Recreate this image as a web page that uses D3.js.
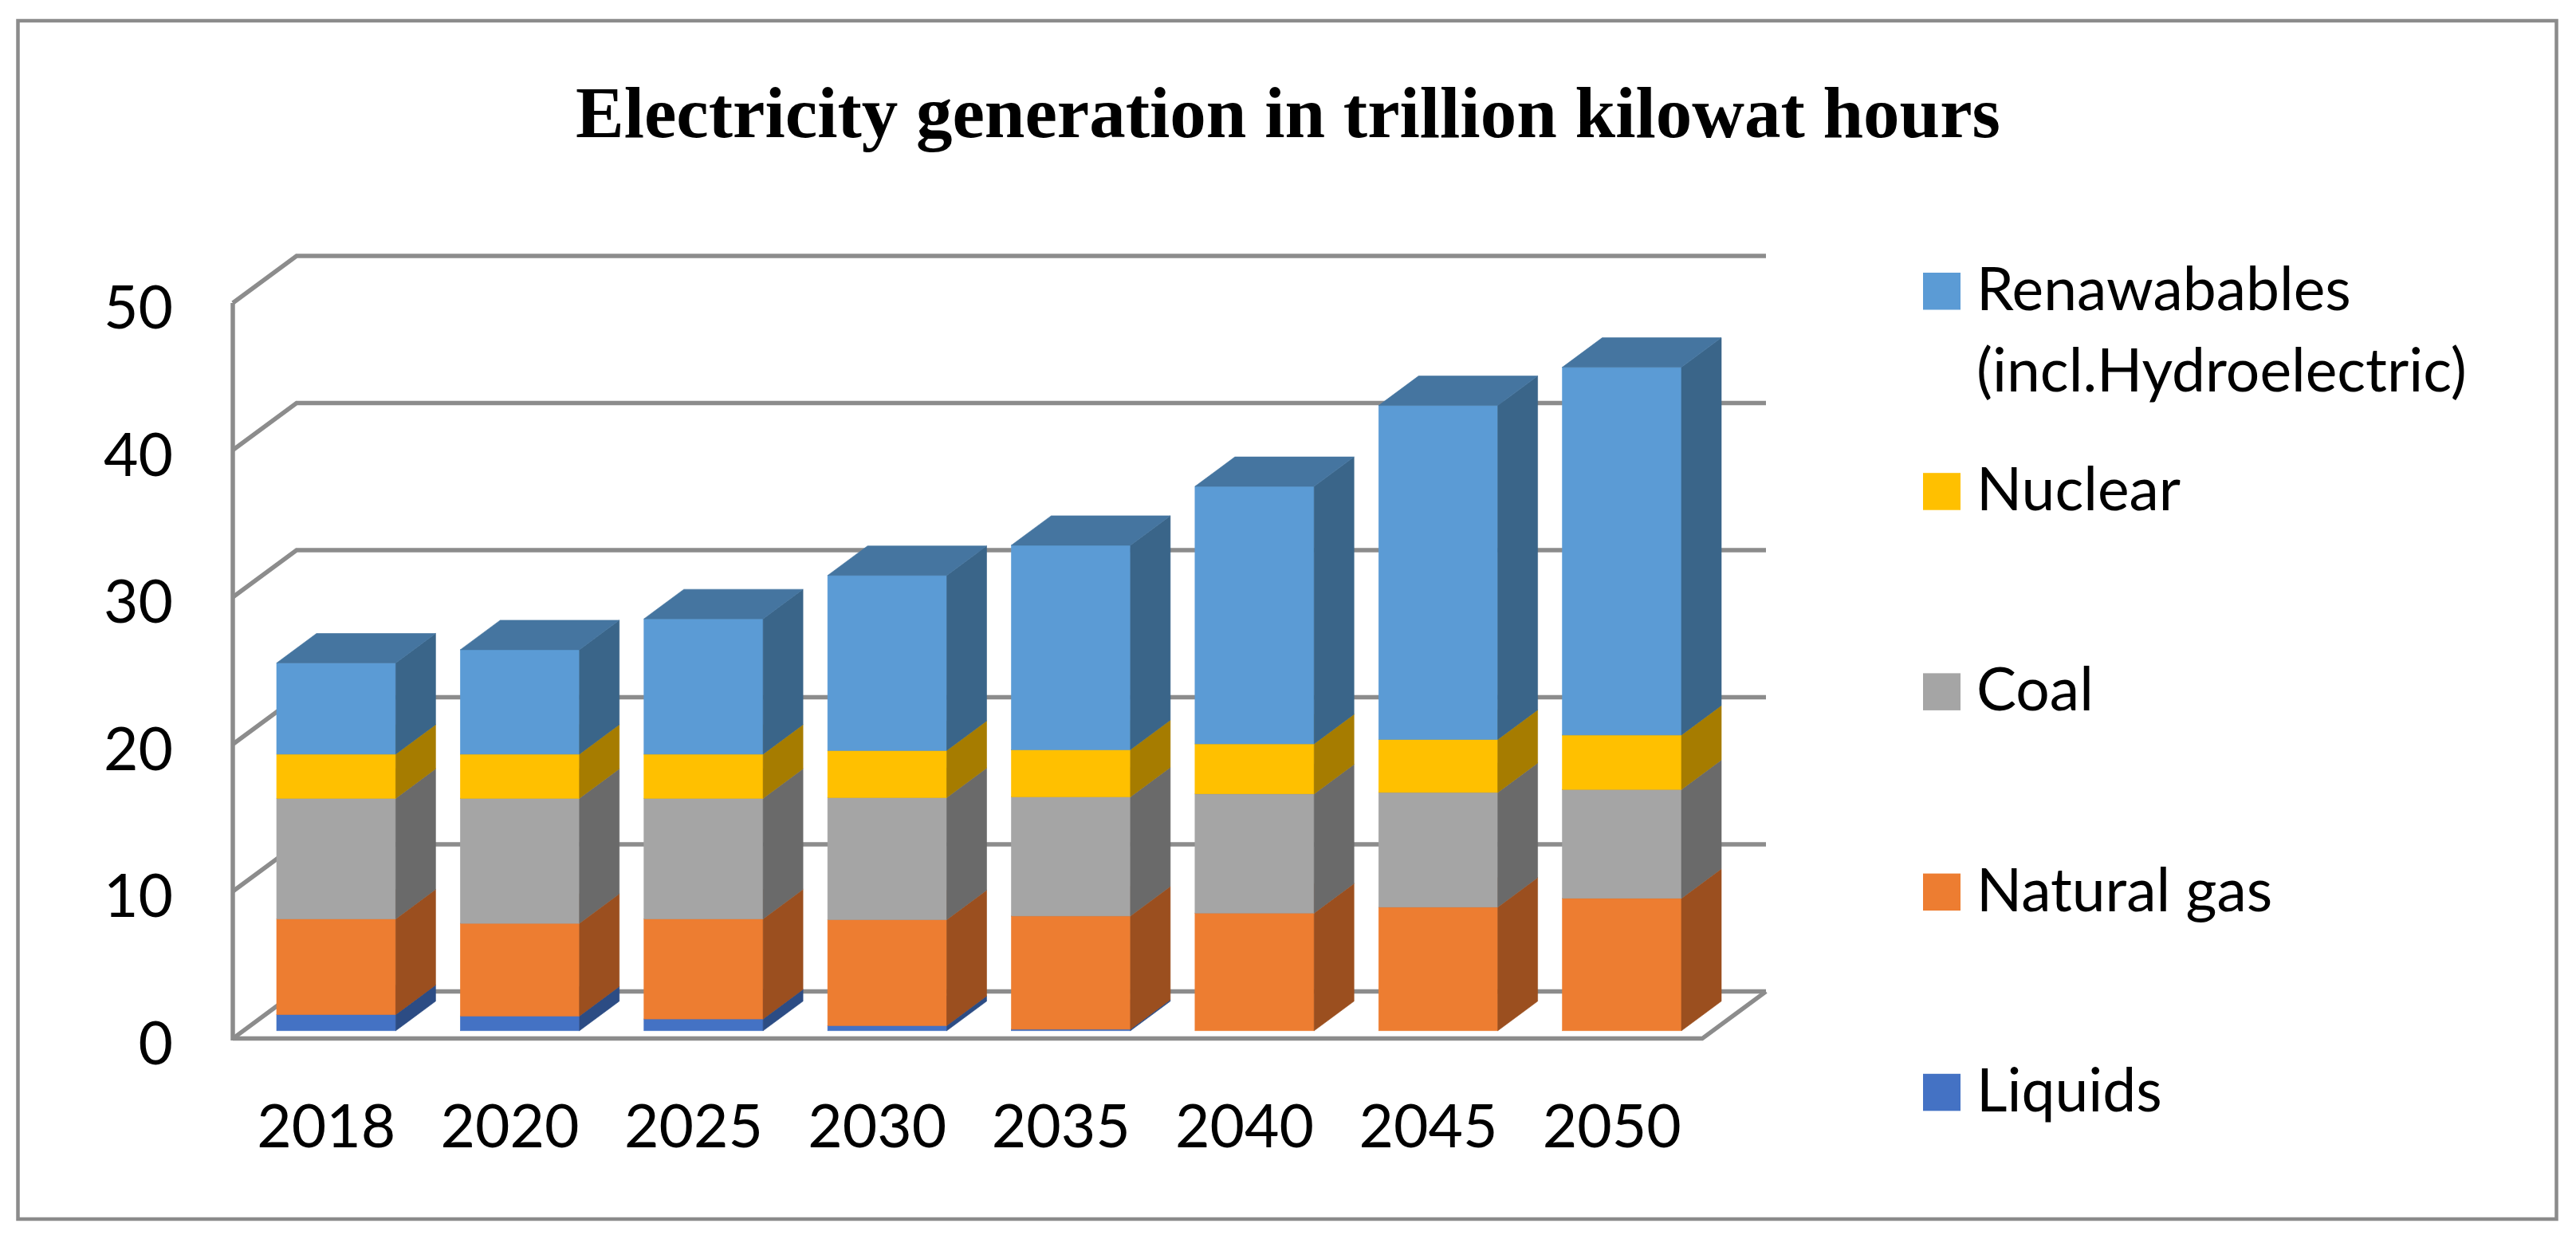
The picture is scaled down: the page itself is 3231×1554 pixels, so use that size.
<!DOCTYPE html>
<html>
<head>
<meta charset="utf-8">
<script src="https://cdn.jsdelivr.net/npm/d3@7"></script>
<style>
html,body{margin:0;padding:0;background:#ffffff;overflow:hidden;}
svg{display:block;}
</style>
</head>
<body>
<svg id="chart" width="3231" height="1554"></svg>
<script>
// ---------------- DATA ----------------
const title = "Electricity generation in trillion kilowat hours";
const years = ["2018", "2020", "2025", "2030", "2035", "2040", "2045", "2050"];
const liquids    = [1.1, 1.0, 0.8, 0.35, 0.1, 0, 0, 0];
const naturalGas = [6.5, 6.3, 6.8, 7.2, 7.7, 8.0, 8.4, 9.0];
const coal       = [8.2, 8.5, 8.2, 8.3, 8.1, 8.1, 7.8, 7.4];
const nuclear    = [3.0, 3.0, 3.0, 3.2, 3.2, 3.4, 3.6, 3.7];
const renewables = [6.2, 7.1, 9.2, 11.9, 13.9, 17.5, 22.7, 25.0];
const yTicks = [0, 10, 20, 30, 40, 50];
const seriesKeys = ["liquids", "gas", "coal", "nuclear", "ren"];
const legendItems = [
  { key: "ren", lines: ["Renawabables", "(incl.Hydroelectric)"] },
  { key: "nuclear", lines: ["Nuclear"] },
  { key: "coal", lines: ["Coal"] },
  { key: "gas", lines: ["Natural gas"] },
  { key: "liquids", lines: ["Liquids"] }
];

// ---------------- STYLE ----------------
const colors = {
  liquids: { front: "#4472C4", side: "#2C4C84", top: "#3A63AC" },
  gas:     { front: "#ED7D31", side: "#9B4F1F", top: "#CC6A29" },
  coal:    { front: "#A5A5A5", side: "#6A6A6A", top: "#8A8A8A" },
  nuclear: { front: "#FFC000", side: "#A67C00", top: "#D6A200" },
  ren:     { front: "#5B9BD5", side: "#3A6589", top: "#4575A0" }
};
const gridColor = "#8c8c8c";
const labelFont = "Lato, 'Open Sans', sans-serif";

// ---------------- LAYOUT ----------------
const svg = d3.select("#chart");
const wallDx = 80, wallDy = -59;      // depth offset of back wall
const barShiftX = 14.5, barShiftY = -9.8; // bar front plane inside the floor
const barDx = 50, barDy = -37;        // bar depth

const x = d3.scaleBand().domain(years).range([292, 2135])
  .paddingInner(0.3516).paddingOuter(0.1758);
const y = d3.scaleLinear().domain([0, 50]).range([1302.6, 380]);

const rows = years.map((yr, i) => ({
  year: yr, liquids: liquids[i], gas: naturalGas[i], coal: coal[i],
  nuclear: nuclear[i], ren: renewables[i]
}));
const stacked = d3.stack().keys(seriesKeys)(rows);

// outer border
svg.append("rect")
  .attr("x", 22.5).attr("y", 26).attr("width", 3184).attr("height", 1503)
  .attr("fill", "#ffffff").attr("stroke", "#8b8b8b").attr("stroke-width", 4.5);

// title
svg.append("text")
  .attr("x", 1615.5).attr("y", 172)
  .attr("text-anchor", "middle")
  .attr("font-family", "'Liberation Serif', 'Times New Roman', serif")
  .attr("font-weight", "bold")
  .attr("font-size", 91)
  .attr("fill", "#000")
  .text(title);

// ---------------- WALLS & FLOOR ----------------
const x0 = x.range()[0], x1 = x.range()[1];
const grid = svg.append("g").attr("fill", "none").attr("stroke", gridColor)
  .attr("stroke-width", 5.5).attr("stroke-linejoin", "miter");

// floor outline (front edge + right edge)
grid.append("path")
  .attr("d", `M${x0},${y(0)} L${x1},${y(0)} L${x1 + wallDx},${y(0) + wallDy}`);

// gridlines: left-wall diagonal + back-wall horizontal
yTicks.forEach(t => {
  grid.append("path")
    .attr("d", `M${x0},${y(t)} L${x0 + wallDx},${y(t) + wallDy} L${x1 + wallDx},${y(t) + wallDy}`);
});
// left wall front vertical edge
grid.append("path")
  .attr("d", `M${x0},${y(50)} L${x0},${y(0) + 2.5}`);

// ---------------- BARS ----------------
const barsG = svg.append("g");
years.forEach((yr, i) => {
  const bx = x(yr) + barShiftX;
  const w = x.bandwidth();
  const g = barsG.append("g");
  stacked.forEach(layer => {
    const d = layer[i];
    if (d[1] - d[0] <= 0) return;
    const c = colors[layer.key];
    const yb = y(d[0]) + barShiftY;
    const yt = y(d[1]) + barShiftY;
    // front
    g.append("rect").attr("x", bx).attr("y", yt).attr("width", w).attr("height", yb - yt)
      .attr("fill", c.front).attr("stroke", c.front).attr("stroke-width", 0.6);
    // side
    g.append("path")
      .attr("d", `M${bx + w},${yt} L${bx + w + barDx},${yt + barDy} L${bx + w + barDx},${yb + barDy} L${bx + w},${yb} Z`)
      .attr("fill", c.side).attr("stroke", c.side).attr("stroke-width", 0.6);
    // top
    g.append("path")
      .attr("d", `M${bx},${yt} L${bx + w},${yt} L${bx + w + barDx},${yt + barDy} L${bx + barDx},${yt + barDy} Z`)
      .attr("fill", c.top).attr("stroke", c.top).attr("stroke-width", 0.6);
  });
});

// ---------------- AXIS LABELS ----------------
svg.append("g").selectAll("text").data(yTicks).join("text")
  .attr("x", 217).attr("y", d => y(d) + 32)
  .attr("text-anchor", "end")
  .attr("font-family", labelFont).attr("font-size", 75).attr("fill", "#000")
  .text(d => d);

svg.append("g").selectAll("text").data(years).join("text")
  .attr("x", d => x(d) + x.bandwidth() / 2 + 2).attr("y", 1439)
  .attr("text-anchor", "middle")
  .attr("font-family", labelFont).attr("font-size", 75).attr("fill", "#000")
  .text(d => d);

// ---------------- LEGEND ----------------
const legend = svg.append("g");
legendItems.forEach((it, i) => {
  const top = 342 + i * 251.2;
  legend.append("rect").attr("x", 2412).attr("y", top).attr("width", 47).attr("height", 46.5)
    .attr("fill", colors[it.key].front);
  const t = legend.append("text")
    .attr("font-family", labelFont).attr("font-size", 75).attr("fill", "#000");
  it.lines.forEach((ln, j) => {
    t.append("tspan").attr("x", 2479).attr("y", top + 47 + j * 102).text(ln);
  });
});
</script>
</body>
</html>
